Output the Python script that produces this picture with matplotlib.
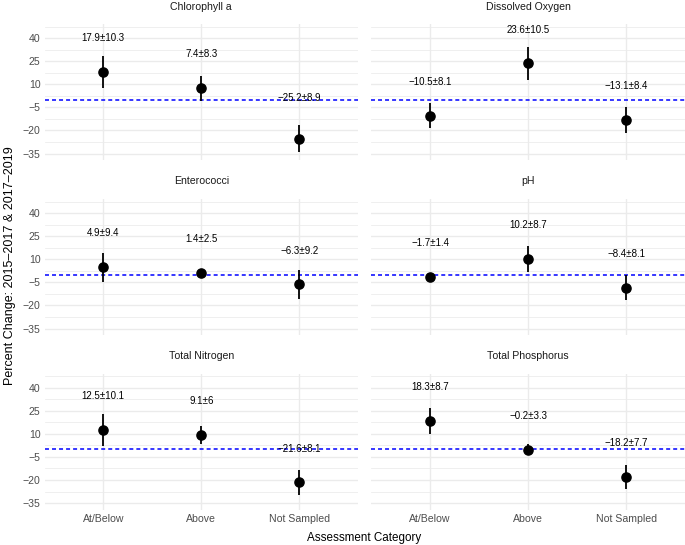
import matplotlib
matplotlib.use("Agg")
import matplotlib.pyplot as plt
import numpy as np

# ---------------- data ----------------
categories = ["At/Below", "Above", "Not Sampled"]
parameters = ["Chlorophyll a", "Dissolved Oxygen", "Enterococci", "pH",
              "Total Nitrogen", "Total Phosphorus"]

chl_mean = [17.9, 7.4, -25.2]
chl_sd = [10.3, 8.3, 8.9]
do_mean = [-10.5, 23.6, -13.1]
do_sd = [8.1, 10.5, 8.4]
ent_mean = [4.9, 1.4, -6.3]
ent_sd = [9.4, 2.5, 9.2]
ph_mean = [-1.7, 10.2, -8.4]
ph_sd = [1.4, 8.7, 8.1]
tn_mean = [12.5, 9.1, -21.6]
tn_sd = [10.1, 6.0, 8.1]
tp_mean = [18.3, -0.2, -18.2]
tp_sd = [8.7, 3.3, 7.7]

means = [chl_mean, do_mean, ent_mean, ph_mean, tn_mean, tp_mean]
sds = [chl_sd, do_sd, ent_sd, ph_sd, tn_sd, tp_sd]

y_ticks = [-35, -20, -5, 10, 25, 40]
y_minor = [-27.5, -12.5, 2.5, 17.5, 32.5, 47.5]

# label placement (offset above mean, data units), one label nudged
label_offset = 22.0
label_nudge = {(0, 2): 4.0}

# ---------------- figure ----------------
W, H = 685, 545
fig = plt.figure(figsize=(W / 100, H / 100), dpi=100)
plt.rcParams['font.family'] = ['Liberation Sans', 'DejaVu Sans']

col_x0 = [44.5, 371.2]
pw = 313.6
row_top = [24.0, 199.0, 373.5]
ph_ = 136.2

ylim = (-39.3, 49.2)
xlim = (0.4, 3.6)


def fmt(v):
    s = ("%g" % v)
    return s.replace("-", "\u2212")


for i, name in enumerate(parameters):
    r, c = divmod(i, 2)
    x0 = col_x0[c]
    top = row_top[r]
    ax = fig.add_axes([x0 / W, 1 - (top + ph_) / H, pw / W, ph_ / H])
    ax.set_xlim(*xlim)
    ax.set_ylim(*ylim)
    for s in ax.spines.values():
        s.set_visible(False)
    ax.set_facecolor("white")

    xs = np.arange(1, len(categories) + 1)
    # grid
    for yv in y_minor:
        ax.axhline(yv, color="#EBEBEB", lw=0.55, zorder=0)
    for yv in y_ticks:
        ax.axhline(yv, color="#EBEBEB", lw=1.0, zorder=0)
    for xv in xs:
        ax.axvline(xv, color="#EBEBEB", lw=1.0, zorder=0)

    ax.axhline(0, color="#0000FF", lw=1.1, linestyle=(0, (2.6, 2.0)), zorder=2)

    m = np.array(means[i])
    sd = np.array(sds[i])
    ax.vlines(xs, m - sd, m + sd, color="black", lw=1.3, zorder=3)
    ax.plot(xs, m, "o", color="black", ms=6.6, zorder=4)

    for j in range(len(categories)):
        ly = m[j] + label_offset + label_nudge.get((i, j), 0.0)
        ax.text(xs[j], ly, "%s\u00b1%s" % (fmt(m[j]), fmt(sd[j])),
                ha="center", va="center", fontsize=7.0, color="black", zorder=5)

    ax.set_yticks(y_ticks)
    ax.set_xticks(xs)
    ax.tick_params(length=0, labelsize=7.6, labelcolor="#4D4D4D", pad=3)
    if c == 0:
        ax.set_yticklabels([fmt(v) for v in y_ticks])
    else:
        ax.set_yticklabels([])
    if r == 2:
        ax.set_xticklabels(categories)
    else:
        ax.set_xticklabels([])

    fig.text((x0 + pw / 2) / W, 1 - (top - 14.5) / H, name, ha="center",
             va="baseline", fontsize=7.6, color="#1A1A1A")

fig.text(364 / W, 1 - 538 / H, "Assessment Category", ha="center", va="center",
         fontsize=8.4, color="black")
fig.text(10 / W, 1 - 266 / H, "Percent Change: 2015\u20132017 & 2017\u20132019",
         ha="center", va="center", rotation=90, fontsize=9.0, color="black")

fig.savefig("out.png", dpi=100, facecolor="white")
